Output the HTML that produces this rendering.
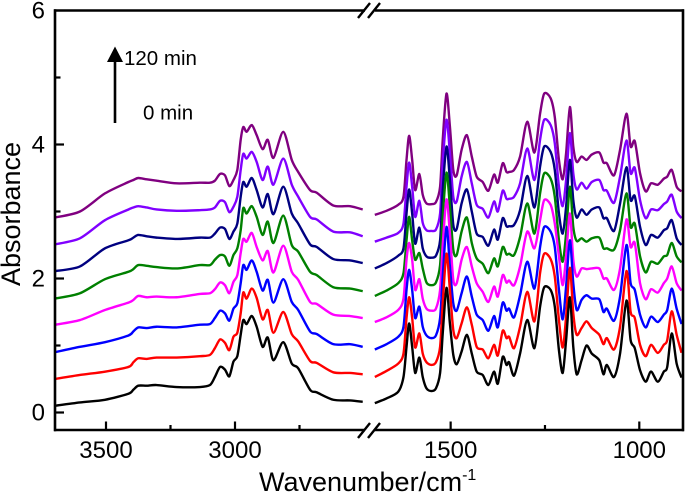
<!DOCTYPE html>
<html>
<head>
<meta charset="utf-8">
<title>Absorbance spectra</title>
<style>
html,body{margin:0;padding:0;background:#fff;width:685px;height:492px;overflow:hidden}
svg{display:block}
text{font-family:"Liberation Sans",Arial,sans-serif;fill:#000}
</style>
</head>
<body>
<svg id="chart" width="685" height="492" viewBox="0 0 685 492" xmlns="http://www.w3.org/2000/svg">
  <defs>
    <clipPath id="plot-clip"><rect x="55" y="10" width="628" height="420"/></clipPath>
  </defs>
  <g id="series" clip-path="url(#plot-clip)"></g>
  <g id="axes"></g>
  <text x="0" y="0" transform="translate(20,214) rotate(-90)" text-anchor="middle" font-size="27">Absorbance</text>
  <text x="259" y="491" font-size="27">Wavenumber/cm<tspan font-size="16" dy="-11">-1</tspan></text>
  <line x1="115" y1="123" x2="115" y2="60" stroke="#000" stroke-width="2.6"/>
  <polygon points="115,46.5 107,62 123,62" fill="#000"/>
  <text x="124" y="65" font-size="20.5">120 min</text>
  <text x="143" y="119.5" font-size="20.5">0 min</text>
</svg>
<script>
const wavenumbersLeft = [3698,3601,3504,3413,3394,3375,3342,3304,3226,3136,3097,3078,3058,3039,3022,3006,2991,2978,2968,2955,2935,2916,2893,2873,2851,2813,2780,2755,2709,2683,2619,2554,2505];
const wavenumbersRight = [1701,1670,1639,1625,1617,1610,1602,1594,1583,1574,1564,1551,1539,1528,1521,1511,1502,1493,1484,1471,1457,1444,1431,1415,1400,1385,1375,1362,1352,1345,1332,1316,1297,1278,1263,1252,1235,1224,1213,1203,1194,1184,1175,1166,1153,1140,1126,1106,1095,1086,1067,1051,1034,1023,1012,998,983,969,951,935,926,914,901,888];

const purpleLeft = [2.91,3.00,3.27,3.44,3.47,3.50,3.48,3.46,3.42,3.43,3.43,3.46,3.56,3.54,3.38,3.47,3.62,4.07,4.26,4.19,4.29,4.14,3.93,4.07,3.80,4.19,3.77,3.59,3.32,3.28,3.09,3.08,3.03];
const violetLeft = [2.51,2.60,2.87,3.03,3.06,3.08,3.06,3.03,3.01,3.02,3.03,3.06,3.16,3.14,2.99,3.07,3.22,3.62,3.86,3.79,3.89,3.74,3.47,3.67,3.40,3.79,3.40,3.22,2.92,2.88,2.70,2.69,2.63];
const navyLeft = [2.11,2.18,2.45,2.57,2.61,2.65,2.63,2.61,2.59,2.61,2.61,2.67,2.76,2.74,2.59,2.70,2.82,3.22,3.44,3.37,3.50,3.32,3.06,3.26,2.96,3.37,2.97,2.82,2.51,2.47,2.29,2.27,2.23];
const greenLeft = [1.70,1.78,1.99,2.10,2.14,2.20,2.19,2.17,2.15,2.20,2.20,2.28,2.35,2.33,2.19,2.35,2.45,2.72,3.05,2.97,3.08,2.92,2.65,2.85,2.53,2.94,2.50,2.40,2.10,2.05,1.87,1.85,1.81];
const magentaLeft = [1.31,1.38,1.53,1.64,1.68,1.74,1.72,1.73,1.72,1.77,1.78,1.84,1.94,1.90,1.78,1.95,2.05,2.38,2.59,2.55,2.68,2.47,2.27,2.41,2.09,2.49,2.10,1.98,1.65,1.62,1.46,1.44,1.41];
const blueLeft = [0.90,0.98,1.05,1.15,1.21,1.27,1.26,1.28,1.27,1.31,1.32,1.41,1.52,1.48,1.37,1.55,1.63,1.93,2.20,2.13,2.27,2.10,1.82,1.98,1.64,1.99,1.65,1.53,1.21,1.17,1.02,1.02,0.98];
const redLeft = [0.50,0.56,0.61,0.68,0.75,0.81,0.80,0.82,0.82,0.84,0.86,0.96,1.09,1.04,0.93,1.13,1.19,1.48,1.79,1.70,1.85,1.71,1.39,1.53,1.19,1.50,1.17,1.06,0.77,0.74,0.60,0.59,0.57];
const blackLeft = [0.10,0.15,0.19,0.28,0.34,0.40,0.40,0.41,0.38,0.38,0.41,0.53,0.68,0.64,0.54,0.76,0.84,1.16,1.38,1.32,1.44,1.28,0.98,1.12,0.78,1.05,0.73,0.66,0.34,0.30,0.19,0.18,0.16];

const purpleRight = [2.95,3.01,3.10,3.22,3.77,4.13,3.77,3.32,3.56,3.25,3.12,3.11,3.14,3.37,4.07,4.76,4.27,3.62,3.54,3.92,4.14,3.82,3.52,3.44,3.31,3.55,3.43,3.72,3.59,3.59,3.62,3.82,4.34,3.88,4.46,4.76,4.69,4.41,3.77,3.48,3.87,4.56,3.97,3.74,3.82,3.77,3.85,3.88,3.73,3.72,3.54,3.92,4.46,3.97,4.05,3.57,3.30,3.42,3.40,3.49,3.52,3.62,3.37,3.30];
const violetRight = [2.55,2.61,2.68,2.82,3.37,3.73,3.37,2.92,3.16,2.83,2.72,2.71,2.73,2.97,3.72,4.37,3.87,3.22,3.15,3.52,3.74,3.42,3.10,3.04,2.91,3.15,3.00,3.31,3.19,3.19,3.22,3.42,3.94,3.47,4.07,4.37,4.29,4.02,3.37,3.08,3.47,4.17,3.57,3.33,3.43,3.34,3.44,3.47,3.32,3.31,3.13,3.52,4.06,3.57,3.65,3.17,2.90,3.03,3.02,3.11,3.15,3.25,3.00,2.90];
const navyRight = [2.15,2.23,2.34,2.45,2.97,3.33,2.97,2.52,2.76,2.45,2.33,2.31,2.34,2.57,3.32,3.97,3.47,2.80,2.74,3.12,3.33,3.00,2.67,2.62,2.49,2.73,2.58,2.90,2.78,2.78,2.80,3.02,3.53,3.06,3.67,3.97,3.89,3.62,2.97,2.67,3.07,3.77,3.17,2.91,3.03,2.95,3.03,3.06,2.90,2.90,2.71,3.12,3.66,3.17,3.23,2.77,2.50,2.65,2.61,2.72,2.75,2.87,2.60,2.50];
const greenRight = [1.74,1.82,1.93,2.08,2.57,2.92,2.57,2.28,2.38,2.15,1.94,1.90,1.94,2.20,2.92,3.58,3.07,2.43,2.35,2.70,2.91,2.53,2.30,2.22,2.08,2.30,2.18,2.47,2.36,2.37,2.35,2.62,3.12,2.67,3.27,3.57,3.49,3.22,2.57,2.25,2.67,3.37,2.77,2.56,2.60,2.55,2.60,2.61,2.45,2.45,2.43,2.72,3.27,2.77,2.82,2.33,2.09,2.25,2.22,2.33,2.35,2.53,2.33,2.24];
const magentaRight = [1.35,1.42,1.53,1.70,2.28,2.53,2.28,1.83,1.99,1.70,1.55,1.52,1.55,1.83,2.50,3.18,2.67,1.98,1.93,2.28,2.47,2.18,1.93,1.80,1.65,1.88,1.73,2.05,1.94,1.97,1.90,2.18,2.70,2.45,2.87,3.17,3.10,2.82,2.33,1.90,2.33,2.97,2.28,2.03,2.15,2.14,2.15,2.15,2.00,2.00,1.83,2.15,2.88,2.47,2.53,1.93,1.69,1.84,1.79,1.93,2.00,2.18,1.93,1.82];
const blueRight = [0.94,1.02,1.13,1.28,1.83,2.13,1.83,1.41,1.58,1.28,1.15,1.11,1.15,1.41,2.03,2.77,2.18,1.63,1.52,1.78,2.03,1.73,1.46,1.38,1.22,1.44,1.27,1.64,1.52,1.55,1.42,1.75,2.25,1.85,2.47,2.77,2.70,2.47,1.83,1.39,1.88,2.57,1.93,1.53,1.68,1.75,1.70,1.69,1.50,1.55,1.37,1.73,2.50,1.93,1.83,1.46,1.27,1.43,1.35,1.46,1.53,1.85,1.55,1.32];
const redRight = [0.53,0.62,0.73,0.88,1.41,1.72,1.41,0.97,1.18,0.88,0.75,0.71,0.75,0.98,1.63,2.37,1.83,1.23,1.11,1.33,1.57,1.31,0.98,0.94,0.81,1.01,0.85,1.22,1.11,1.13,0.96,1.28,1.80,1.36,2.08,2.37,2.29,2.03,1.38,0.97,1.43,2.16,1.48,1.16,1.26,1.36,1.26,1.16,1.02,1.11,0.94,1.28,2.11,1.50,1.41,1.01,0.84,1.01,0.89,1.01,1.08,1.51,1.16,0.89];
const blackRight = [0.14,0.21,0.31,0.53,0.98,1.33,0.98,0.59,0.82,0.53,0.36,0.32,0.36,0.59,1.18,1.86,1.33,0.86,0.72,0.91,1.16,0.88,0.61,0.56,0.41,0.61,0.43,0.83,0.71,0.75,0.55,0.88,1.38,0.96,1.58,1.87,1.83,1.58,0.93,0.59,1.08,1.72,0.98,0.57,0.78,1.00,0.88,0.78,0.57,0.71,0.53,0.88,1.67,1.08,0.96,0.63,0.46,0.61,0.46,0.61,0.68,1.18,0.73,0.52];

const seriesNames = ["purple","violet","navy","green","magenta","blue","red","black"];
const seriesColors = ["#800080","#8000ff","#000080","#008000","#ff00ff","#0000ff","#ff0000","#000000"];
const leftSeries = [purpleLeft,violetLeft,navyLeft,greenLeft,magentaLeft,blueLeft,redLeft,blackLeft];
const rightSeries = [purpleRight,violetRight,navyRight,greenRight,magentaRight,blueRight,redRight,blackRight];

const yTickLabels = [0,2,4,6];
const yMinorTicks = [1,3,5];
const xLeftTickLabels = [3500,3000];
const xLeftMinorTicks = [3250,2750];
const xRightTickLabels = [1500,1000];
const xRightMinorTicks = [1250];

const NS = "http://www.w3.org/2000/svg";
function yScale(v){ return 412.5 - 67 * v; }
function xLeft(w){ return 235 + (3000 - w) * 0.258; }
function xRight(w){ return 639.3 + (1000 - w) * 0.3773; }

function smoothPath(xs, ys, xFn){
  const p = xs.map((w, i) => [xFn(w), yScale(ys[i])]);
  let d = "M" + p[0][0].toFixed(2) + " " + p[0][1].toFixed(2);
  const t = 0.14;
  for (let i = 0; i < p.length - 1; i++){
    const a = p[Math.max(i - 1, 0)], b = p[i], c = p[i + 1], e = p[Math.min(i + 2, p.length - 1)];
    const c1x = b[0] + (c[0] - a[0]) * t, c1y = b[1] + (c[1] - a[1]) * t;
    const c2x = c[0] - (e[0] - b[0]) * t, c2y = c[1] - (e[1] - b[1]) * t;
    d += "C" + c1x.toFixed(2) + " " + c1y.toFixed(2) + " " + c2x.toFixed(2) + " " + c2y.toFixed(2) + " " + c[0].toFixed(2) + " " + c[1].toFixed(2);
  }
  return d;
}

const seriesGroup = document.getElementById("series");
seriesNames.forEach(function(name, i){
  const left = document.createElementNS(NS, "path");
  left.setAttribute("d", smoothPath(wavenumbersLeft, leftSeries[i], xLeft));
  left.setAttribute("fill", "none");
  left.setAttribute("stroke", seriesColors[i]);
  left.setAttribute("stroke-width", "2.4");
  left.setAttribute("stroke-linejoin", "round");
  
  
  seriesGroup.appendChild(left);
  const right = document.createElementNS(NS, "path");
  right.setAttribute("d", smoothPath(wavenumbersRight, rightSeries[i], xRight));
  right.setAttribute("fill", "none");
  right.setAttribute("stroke", seriesColors[i]);
  right.setAttribute("stroke-width", "2.4");
  right.setAttribute("stroke-linejoin", "round");
  
  
  seriesGroup.appendChild(right);
});

const axes = document.getElementById("axes");
function addLine(x1, y1, x2, y2, width, name){
  const l = document.createElementNS(NS, "line");
  l.setAttribute("x1", x1);
  l.setAttribute("y1", y1);
  l.setAttribute("x2", x2);
  l.setAttribute("y2", y2);
  l.setAttribute("stroke", "#000");
  l.setAttribute("stroke-width", width);
  
  
  axes.appendChild(l);
}
function addText(x, y, anchor, str, name){
  const t = document.createElementNS(NS, "text");
  t.setAttribute("x", x);
  t.setAttribute("y", y);
  t.setAttribute("text-anchor", anchor);
  t.setAttribute("font-size", "24");
  t.textContent = str;
  
  
  axes.appendChild(t);
}

addLine(55, 9.3, 55, 431.2, 2.6, "left-spine");
addLine(683, 9.3, 683, 431.2, 2.6, "right-spine");
addLine(54, 10.5, 365, 10.5, 2.6, "top-spine-left");
addLine(375, 10.5, 684, 10.5, 2.6, "top-spine-right");
addLine(54, 430, 365, 430, 2.6, "bottom-spine-left");
addLine(375, 430, 684, 430, 2.6, "bottom-spine-right");

addLine(358, 18, 370, 3, 2.4, "top-axis-break-mark-1");
addLine(368, 18, 380, 3, 2.4, "top-axis-break-mark-2");
addLine(358, 438, 370, 423, 2.4, "bottom-axis-break-mark-1");
addLine(368, 438, 380, 423, 2.4, "bottom-axis-break-mark-2");

yTickLabels.forEach(function(v){
  if (v < 6) addLine(55, yScale(v), 64, yScale(v), 2.2, "y-major-tick");
  addText(45, yScale(v) + 8, "end", String(v), "y-tick-label");
});
yMinorTicks.forEach(function(v){
  addLine(55, yScale(v), 60.5, yScale(v), 2.2, "y-minor-tick");
});
xLeftTickLabels.forEach(function(w){
  addLine(xLeft(w), 430, xLeft(w), 421.5, 2.2, "x-major-tick");
  addText(xLeft(w), 458, "middle", String(w), "x-tick-label");
});
xLeftMinorTicks.forEach(function(w){
  addLine(xLeft(w), 430, xLeft(w), 425, 2.2, "x-minor-tick");
});
xRightTickLabels.forEach(function(w){
  addLine(xRight(w), 430, xRight(w), 421.5, 2.2, "x-major-tick");
  addText(xRight(w), 458, "middle", String(w), "x-tick-label");
});
xRightMinorTicks.forEach(function(w){
  addLine(xRight(w), 430, xRight(w), 425, 2.2, "x-minor-tick");
});
</script>
</body>
</html>
